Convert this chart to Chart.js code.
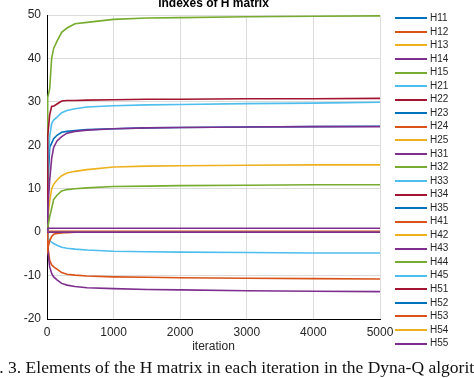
<!DOCTYPE html>
<html>
<head>
<meta charset="utf-8">
<script src="https://cdn.jsdelivr.net/npm/chart.js@4/dist/chart.umd.min.js"></script>
<style>
  body { margin: 0; background: #fff; }
  #wrap { position: relative; width: 474px; height: 378px; overflow: hidden; background: #fff; }
  #chart { position: absolute; left: 0; top: 0; }
  #title { position: absolute; left: 0; width: 427px; top: -4px; text-align: center;
           font: bold 12px "Liberation Sans", Arial, sans-serif; color: #000; }
  .leg { position: absolute; left: 395px; height: 12px; font: 10px "Liberation Sans", Arial, sans-serif;
         color: #262626; white-space: nowrap; }
  .leg span { display: inline-block; width: 32px; height: 2px; vertical-align: middle; margin-right: 3px; }
  #caption { position: absolute; left: -24px; top: 357px; white-space: nowrap;
             font: 17.5px "Liberation Serif", "Times New Roman", serif; color: #111; }
</style>
</head>
<body>
<div id="wrap">
  <canvas id="chart" width="474" height="378"></canvas>
  <div id="title">indexes of H matrix</div>
  <div id="legend"></div>
  <div id="caption">Fig. 3. Elements of the H matrix in each iteration in the Dyna-Q algorithm.</div>
</div>
<script>
// eixo x: iteracoes amostradas
const iterations = [0, 10, 40, 70, 100, 150, 220, 300, 420, 600, 1000, 1500, 2000, 3000, 4000, 5000];

const yTicks = [-20, -10, 0, 10, 20, 30, 40, 50];
const xTicks = [0, 1000, 2000, 3000, 4000, 5000];

const labels = ["H11","H12","H13","H14","H15","H21","H22","H23","H24","H25",
                "H31","H32","H33","H34","H35","H41","H42","H43","H44","H45",
                "H51","H52","H53","H54","H55"];

// cores padrao do MATLAB, repetidas
const palette = ["#0072BD", "#D95319", "#EDB120", "#7E2F8E", "#77AC30", "#4DBEEE", "#A2142F"];

// valores
const h11 = [0, 10, 19.5, 20.5, 21.5, 22.3, 23, 23.2, 23.4, 23.6, 23.8, 24, 24.1, 24.2, 24.3, 24.4];
const h12 = [0, -3, -6.5, -7.5, -8, -8.5, -9.3, -9.7, -9.9, -10.1, -10.3, -10.4, -10.5, -10.6, -10.7, -10.8];
const h13 = [0, 3, 7, 10, 11, 12, 13, 13.6, 14, 14.4, 15, 15.2, 15.3, 15.4, 15.5, 15.5];
const h14 = [0, -4, -8, -9.5, -10.3, -11, -11.8, -12.2, -12.5, -12.8, -13, -13.2, -13.3, -13.5, -13.6, -13.7];
const h15 = [0, 31, 33, 40, 42.3, 44, 46, 47, 48, 48.3, 49, 49.3, 49.4, 49.6, 49.7, 49.8];
const h21 = [0, 15, 22, 25, 25.8, 26.5, 27.5, 28, 28.4, 28.8, 29.1, 29.3, 29.4, 29.6, 29.7, 29.9];
const h22 = [0, 22, 27, 29, 29, 29.5, 30.2, 30.3, 30.3, 30.4, 30.5, 30.6, 30.6, 30.7, 30.7, 30.8];
const h23 = [0, 0, 0, 0, 0, 0, 0, 0, 0, 0, 0, 0, 0, 0, 0, 0];
const h24 = [0, 0.2, 0.2, 0.2, 0.2, 0.2, 0.2, 0.2, 0.2, 0.2, 0.2, 0.2, 0.2, 0.2, 0.2, 0.2];
const h25 = [0, 0, 0, 0, 0, 0, 0, 0, 0, 0, 0, 0, 0, 0, 0, 0];
const h31 = [0, 5, 12, 17, 19.5, 21, 22, 22.8, 23.2, 23.5, 23.8, 24, 24.1, 24.2, 24.3, 24.3];
const h32 = [0, 1, 3.5, 5.5, 7.5, 8.5, 9.5, 9.8, 10, 10.2, 10.5, 10.6, 10.7, 10.8, 10.9, 10.9];
const h33 = [0, -1, -2, -2.3, -2.6, -3, -3.5, -3.7, -3.9, -4.1, -4.4, -4.5, -4.6, -4.7, -4.8, -4.8];
const h34 = [0, 0.1, 0.1, 0.1, 0.1, 0.1, 0.1, 0.1, 0.1, 0.1, 0.1, 0.1, 0.1, 0.1, 0.1, 0.1];
const h35 = [0, 0, 0, 0, 0, 0, 0, 0, 0, 0, 0, 0, 0, 0, 0, 0];
const h41 = [0, -4, -2, -1, -0.5, -0.3, -0.2, -0.1, 0, 0, 0, 0, 0, 0, 0, 0];
const h42 = [0, 0, 0, 0, 0, 0, 0, 0, 0, 0, 0, 0, 0, 0, 0, 0];
const h43 = [0, 0.9, 0.9, 0.9, 0.9, 0.9, 0.9, 0.9, 0.9, 0.9, 0.9, 0.9, 0.9, 0.9, 0.9, 0.9];
const h44 = [0, 0, 0, 0, 0, 0, 0, 0, 0, 0, 0, 0, 0, 0, 0, 0];
const h45 = [0, 0, 0, 0, 0, 0, 0, 0, 0, 0, 0, 0, 0, 0, 0, 0];
const h51 = [0, 0.1, 0.1, 0.1, 0.1, 0.1, 0.1, 0.1, 0.1, 0.1, 0.1, 0.1, 0.1, 0.1, 0.1, 0.1];
const h52 = [0, 0, 0, 0, 0, 0, 0, 0, 0, 0, 0, 0, 0, 0, 0, 0];
const h53 = [0, 0, 0, 0, 0, 0, 0, 0, 0, 0, 0, 0, 0, 0, 0, 0];
const h54 = [0, 0, 0, 0, 0, 0, 0, 0, 0, 0, 0, 0, 0, 0, 0, 0];
const h55 = [0, 0, 0, 0, 0, 0, 0, 0, 0, 0, 0, 0, 0, 0, 0, 0];

const series = [h11,h12,h13,h14,h15,h21,h22,h23,h24,h25,h31,h32,h33,h34,h35,
                h41,h42,h43,h44,h45,h51,h52,h53,h54,h55];

const datasets = series.map((vals, i) => ({
  label: labels[i],
  data: vals.map((v, k) => ({ x: iterations[k], y: v })),
  borderColor: palette[i % palette.length],
  borderWidth: 1.6,
  pointRadius: 0,
  tension: 0,
  fill: false,
  order: series.length - i   // ultima serie por cima, como no MATLAB
}));

// legenda manual
document.getElementById("legend").innerHTML = labels.map((l, i) => `
  <div class="leg" style="top:${12 + i * 13.55}px">
    <span style="background:${palette[i % palette.length]}"></span>${l}
  </div>`).join("");

new Chart(document.getElementById("chart"), {
  type: "line",
  data: { datasets },
  options: {
    responsive: false,
    animation: false,
    layout: { padding: { left: 0, top: 15, right: 94, bottom: 0 } },
    plugins: { legend: { display: false }, tooltip: { enabled: false } },
    scales: {
      x: {
        type: "linear",
        min: 0, max: 5000,
        afterBuildTicks: s => { s.ticks = xTicks.map(v => ({ value: v })); },
        afterFit: s => { s.height = 59; },
        ticks: { padding: 6, color: "#262626", font: { family: "Liberation Sans", size: 12 },
                 callback: v => String(v) },
        grid: { color: "#dcdcdc", drawTicks: false },
        border: { color: "#000", width: 1 },
        title: { display: true, text: "iteration", color: "#262626",
                 font: { family: "Liberation Sans", size: 12 }, padding: { top: 0, bottom: 24 } }
      },
      y: {
        min: -20, max: 50,
        afterBuildTicks: s => { s.ticks = yTicks.map(v => ({ value: v })); },
        afterFit: s => { s.width = 47; },
        ticks: { padding: 6, color: "#262626", font: { family: "Liberation Sans", size: 12 } },
        grid: { color: "#dcdcdc", drawTicks: false },
        border: { color: "#000", width: 1 }
      }
    }
  }
});
</script>
</body>
</html>
